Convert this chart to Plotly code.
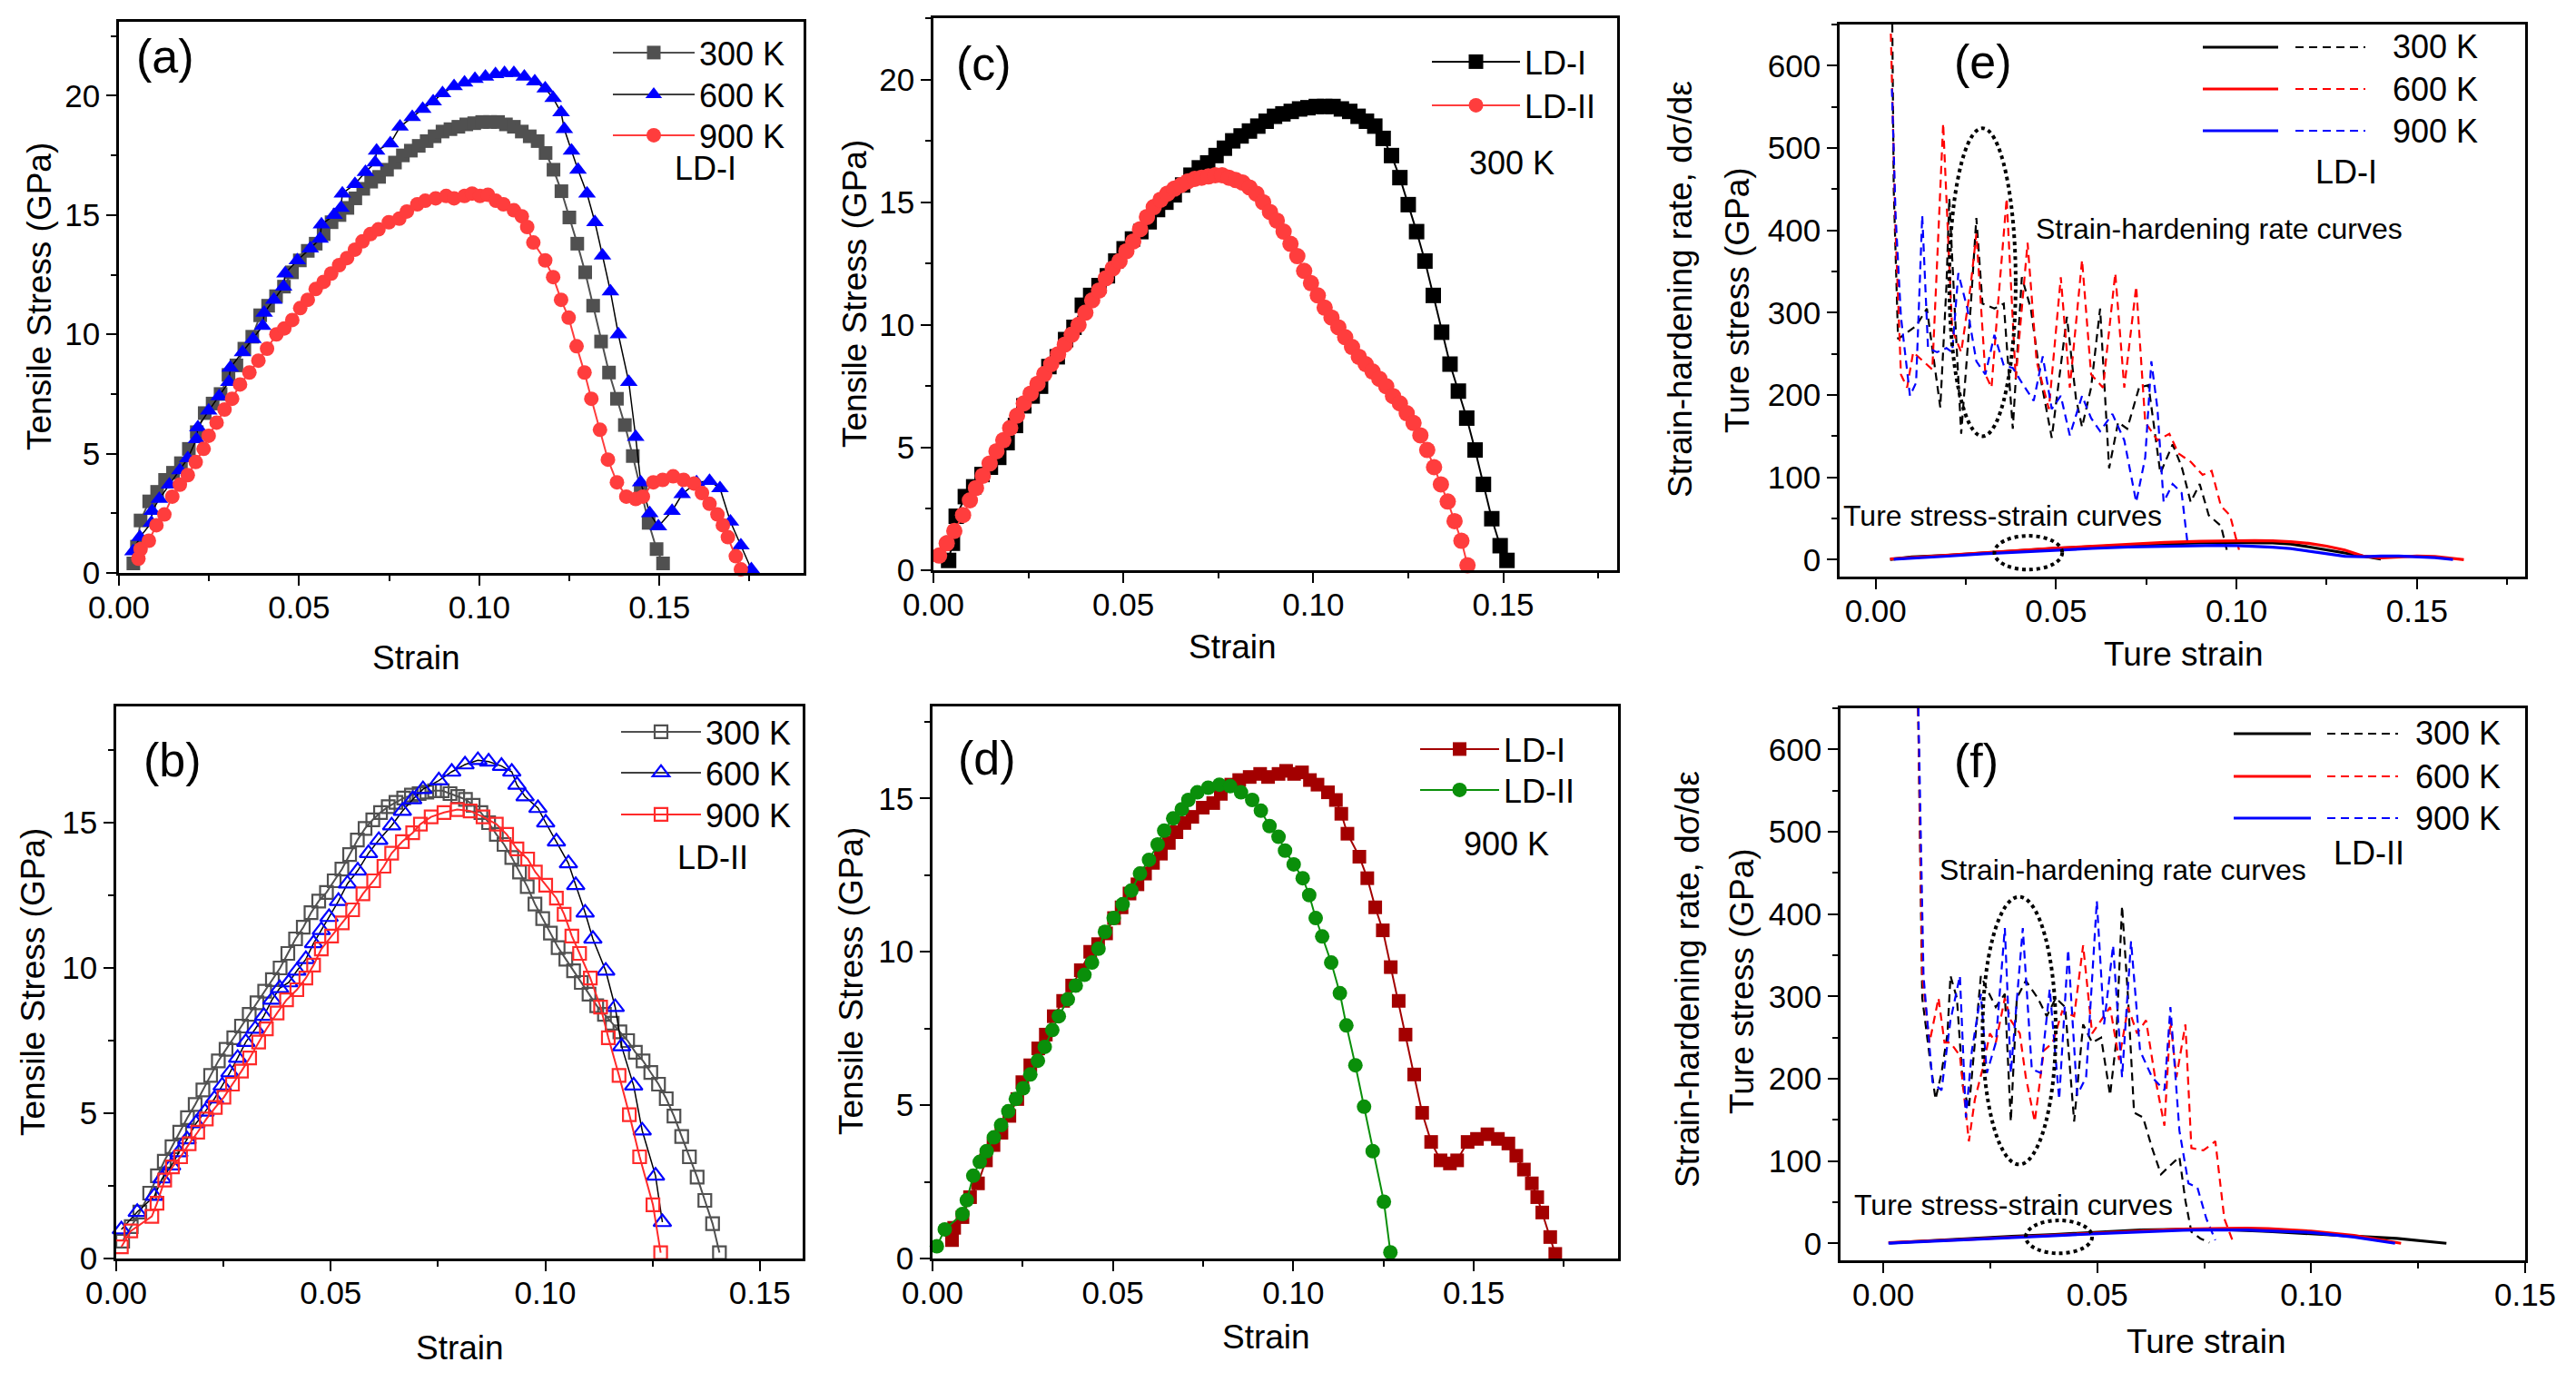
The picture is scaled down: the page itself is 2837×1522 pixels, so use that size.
import plotly.graph_objects as go

W, H = 2837, 1522
FONT = "Liberation Sans, Arial, sans-serif"

# ------------------------------------------------------------------ data
# LD-I engineering stress-strain (GPa)
strain_LDI_300 = [0.0040, 0.0050, 0.0060, 0.0084, 0.0106, 0.0128, 0.0150, 0.0172, 0.0194, 0.0216,
                  0.0238, 0.0260, 0.0282, 0.0304, 0.0326, 0.0348, 0.0370, 0.0392, 0.0414, 0.0436,
                  0.0458, 0.0480, 0.0502, 0.0524, 0.0546, 0.0568, 0.0590, 0.0612, 0.0634, 0.0656,
                  0.0678, 0.0700, 0.0722, 0.0744, 0.0766, 0.0788, 0.0810, 0.0832, 0.0854, 0.0876,
                  0.0898, 0.0920, 0.0942, 0.0964, 0.0986, 0.1008, 0.1030, 0.1052, 0.1074, 0.1096,
                  0.1118, 0.1140, 0.1162, 0.1184, 0.1206, 0.1228, 0.1250, 0.1272, 0.1294, 0.1316,
                  0.1338, 0.1360, 0.1382, 0.1404, 0.1426, 0.1448, 0.1470, 0.1492, 0.1510]
stress_LDI_300 = [0.4, 1.1, 2.2, 3.0, 3.4, 3.9, 4.2, 4.6, 5.2, 5.9,
                  6.7, 7.1, 7.5, 8.3, 8.7, 9.4, 9.9, 10.8, 11.2, 11.6,
                  12.0, 12.6, 13.1, 13.5, 13.8, 14.2, 14.7, 15.0, 15.3, 15.7,
                  16.1, 16.4, 16.6, 16.9, 17.2, 17.5, 17.7, 17.9, 18.1, 18.3,
                  18.5, 18.6, 18.7, 18.8, 18.85, 18.9, 18.9, 18.9, 18.8, 18.7,
                  18.5, 18.3, 18.1, 17.6, 16.9, 16.0, 14.9, 13.8, 12.6, 11.2,
                  9.7, 8.4, 7.3, 6.2, 4.9, 3.5, 2.1, 1.0, 0.4]

strain_LDI_600 = [0.0039, 0.0058, 0.0090, 0.0092, 0.0112, 0.0140, 0.0169, 0.0191, 0.0215, 0.0219,
                  0.0249, 0.0278, 0.0305, 0.0309, 0.0343, 0.0372, 0.0399, 0.0403, 0.0430, 0.0457,
                  0.0461, 0.0495, 0.0531, 0.0558, 0.0562, 0.0597, 0.0616, 0.0620, 0.0655, 0.0684,
                  0.0711, 0.0715, 0.0753, 0.0780, 0.0814, 0.0843, 0.0872, 0.0898, 0.0930, 0.0959,
                  0.0988, 0.1017, 0.1045, 0.1070, 0.1096, 0.1125, 0.1154, 0.1183, 0.1205, 0.1227,
                  0.1236, 0.1256, 0.1274, 0.1299, 0.1321, 0.1342, 0.1364, 0.1386, 0.1415, 0.1434,
                  0.1448, 0.1473, 0.1497, 0.1535, 0.1563, 0.1603, 0.1639, 0.1668, 0.1697, 0.1726,
                  0.1755]
stress_LDI_600 = [0.9, 1.5, 2.1, 2.6, 3.1, 3.7, 4.3, 4.8, 5.6, 6.1,
                  6.8, 7.4, 8.0, 8.6, 9.25, 9.8, 10.35, 10.9, 11.45, 12.0,
                  12.55, 13.1, 13.6, 14.0, 14.6, 15.0, 15.3, 15.9, 16.3, 16.8,
                  17.2, 17.7, 18.0, 18.7, 19.1, 19.45, 19.76, 20.1, 20.4, 20.55,
                  20.7, 20.8, 20.9, 20.95, 20.95, 20.8, 20.6, 20.3, 19.9, 19.3,
                  18.6, 17.7, 16.9, 15.9, 14.7, 13.3, 11.8, 10.0, 8.0, 5.7,
                  3.8, 2.5, 1.95, 2.6, 3.3, 3.8, 3.85, 3.55, 2.15, 1.15,
                  0.15]

strain_LDI_900 = [0.0054, 0.0060, 0.0083, 0.0104, 0.0126, 0.0148, 0.0169, 0.0191, 0.0213, 0.0235,
                  0.0249, 0.0271, 0.0293, 0.0314, 0.0336, 0.0362, 0.0387, 0.0411, 0.0437, 0.0459,
                  0.0481, 0.0503, 0.0524, 0.0546, 0.0568, 0.0589, 0.0611, 0.0633, 0.0655, 0.0676,
                  0.0698, 0.0720, 0.0749, 0.0778, 0.0799, 0.0828, 0.0850, 0.0879, 0.0908, 0.0930,
                  0.0959, 0.0980, 0.1002, 0.1024, 0.1046, 0.1067, 0.1096, 0.1118, 0.1133, 0.1150,
                  0.1183, 0.1205, 0.1227, 0.1248, 0.1270, 0.1292, 0.1311, 0.1335, 0.1357, 0.1382,
                  0.1408, 0.1434, 0.1454, 0.1483, 0.1509, 0.1538, 0.1567, 0.1596, 0.1618, 0.1639,
                  0.1661, 0.1676, 0.1690, 0.1712, 0.1726]
stress_LDI_900 = [0.6, 1.0, 1.35, 2.0, 2.45, 3.2, 3.7, 4.1, 4.65, 5.2,
                  5.75, 6.3, 6.85, 7.3, 7.9, 8.4, 8.9, 9.4, 10.0, 10.25,
                  10.6, 11.1, 11.45, 11.9, 12.2, 12.55, 12.9, 13.2, 13.55, 13.9,
                  14.2, 14.4, 14.7, 14.85, 15.15, 15.45, 15.6, 15.7, 15.8, 15.7,
                  15.8, 15.9, 15.8, 15.85, 15.6, 15.45, 15.2, 14.95, 14.5, 13.85,
                  13.1, 12.4, 11.45, 10.7, 9.5, 8.4, 7.3, 6.0, 4.75, 3.8,
                  3.2, 3.1, 3.2, 3.8, 3.9, 4.05, 3.9, 3.75, 3.35, 2.9,
                  2.45, 2.0, 1.5, 0.7, 0.15]

# LD-II engineering stress-strain (GPa)
strain_LDII_300 = [0.0015, 0.0035, 0.0055, 0.0078, 0.0096, 0.0112, 0.0130, 0.0148, 0.0166, 0.0184,
                   0.0202, 0.0220, 0.0238, 0.0256, 0.0274, 0.0292, 0.0310, 0.0328, 0.0346, 0.0364,
                   0.0382, 0.0400, 0.0418, 0.0436, 0.0454, 0.0472, 0.0490, 0.0508, 0.0526, 0.0544,
                   0.0562, 0.0580, 0.0598, 0.0616, 0.0634, 0.0652, 0.0670, 0.0688, 0.0706, 0.0724,
                   0.0742, 0.0760, 0.0778, 0.0796, 0.0814, 0.0832, 0.0850, 0.0868, 0.0886, 0.0904,
                   0.0922, 0.0940, 0.0958, 0.0976, 0.0994, 0.1012, 0.1030, 0.1048, 0.1066, 0.1084,
                   0.1102, 0.1120, 0.1138, 0.1156, 0.1174, 0.1192, 0.1210, 0.1228, 0.1246, 0.1264,
                   0.1282, 0.1300, 0.1318, 0.1336, 0.1354, 0.1372, 0.1390, 0.1406]
stress_LDII_300 = [0.6, 1.1, 1.6, 2.25, 2.85, 3.35, 3.85, 4.35, 4.85, 5.3,
                   5.8, 6.3, 6.8, 7.2, 7.6, 8.0, 8.4, 8.8, 9.2, 9.6,
                   10.0, 10.5, 11.0, 11.4, 11.9, 12.3, 12.6, 13.0, 13.4, 13.9,
                   14.4, 14.8, 15.1, 15.35, 15.55, 15.7, 15.85, 15.95, 16.0, 16.05,
                   16.1, 16.1, 16.0, 15.9, 15.8, 15.6, 15.35, 15.0, 14.6, 14.25,
                   13.8, 13.3, 12.8, 12.2, 11.7, 11.2, 10.7, 10.3, 9.9, 9.5,
                   9.1, 8.7, 8.4, 8.1, 7.8, 7.5, 7.1, 6.8, 6.4, 6.0,
                   5.5, 4.9, 4.2, 3.5, 2.8, 2.0, 1.2, 0.2]

strain_LDII_600 = [0.0012, 0.0049, 0.0089, 0.0107, 0.0129, 0.0146, 0.0165, 0.0186, 0.0207, 0.0229,
                   0.0247, 0.0265, 0.0283, 0.0302, 0.0324, 0.0344, 0.0363, 0.0381, 0.0402, 0.0421,
                   0.0442, 0.0460, 0.0478, 0.0496, 0.0518, 0.0539, 0.0563, 0.0588, 0.0612, 0.0642,
                   0.0667, 0.0691, 0.0715, 0.0752, 0.0782, 0.0813, 0.0843, 0.0868, 0.0898, 0.0922,
                   0.0934, 0.0953, 0.0983, 0.1001, 0.1026, 0.1054, 0.1071, 0.1093, 0.1111, 0.1141,
                   0.1163, 0.1178, 0.1206, 0.1226, 0.1257, 0.1273]
stress_LDII_600 = [1.0, 1.6, 2.15, 2.75, 3.2, 3.65, 4.1, 4.65, 5.05, 5.5,
                   5.95, 6.4, 6.9, 7.45, 7.9, 8.35, 8.9, 9.3, 9.5, 9.9,
                   10.3, 10.85, 11.3, 11.75, 12.3, 12.9, 13.35, 13.95, 14.4, 14.9,
                   15.4, 15.8, 16.15, 16.45, 16.75, 17.0, 17.15, 17.1, 16.95, 16.75,
                   16.3, 15.9, 15.5, 15.0, 14.35, 13.6, 12.85, 11.9, 11.0, 9.9,
                   8.65, 7.3, 5.95, 4.4, 2.85, 1.25]

strain_LDII_900 = [0.0012, 0.0034, 0.0083, 0.0095, 0.0113, 0.0131, 0.0150, 0.0170, 0.0190, 0.0210,
                   0.0231, 0.0251, 0.0271, 0.0292, 0.0311, 0.0332, 0.0350, 0.0375, 0.0397, 0.0421,
                   0.0442, 0.0460, 0.0478, 0.0502, 0.0527, 0.0551, 0.0575, 0.0600, 0.0624, 0.0642,
                   0.0667, 0.0691, 0.0709, 0.0734, 0.0764, 0.0795, 0.0825, 0.0855, 0.0886, 0.0910,
                   0.0934, 0.0959, 0.0977, 0.1001, 0.1026, 0.1044, 0.1062, 0.1080, 0.1105, 0.1129,
                   0.1147, 0.1172, 0.1196, 0.1220, 0.1251, 0.1269]
stress_LDII_900 = [0.4, 0.95, 1.45, 1.9, 2.7, 3.15, 3.5, 3.95, 4.35, 4.8,
                   5.2, 5.55, 6.0, 6.45, 6.9, 7.45, 7.9, 8.45, 8.9, 9.25,
                   9.65, 10.1, 10.65, 11.1, 11.55, 12.0, 12.55, 13.0, 13.5, 13.95,
                   14.35, 14.65, 14.95, 15.2, 15.35, 15.45, 15.4, 15.2, 14.95, 14.6,
                   14.1, 13.75, 13.3, 12.85, 12.4, 11.85, 11.1, 10.5, 9.65, 8.65,
                   7.6, 6.3, 4.95, 3.5, 1.85, 0.2]

# (e) LD-I true stress-strain (GPa)
tstrain_LDI_300 = [0.004, 0.01, 0.02, 0.03, 0.04, 0.05, 0.06, 0.07, 0.08, 0.09, 0.10, 0.11, 0.115,
                   0.12, 0.125, 0.13, 0.135, 0.14]
tstress_LDI_300 = [0.4, 3.4, 5.3, 8.4, 11.2, 13.8, 15.8, 17.9, 19.4, 20.4, 20.8, 20.3, 19.0,
                   15.6, 11.8, 8.0, 4.2, 0.7]
tstrain_LDI_600 = [0.004, 0.01, 0.02, 0.03, 0.04, 0.05, 0.06, 0.07, 0.08, 0.09, 0.10, 0.105, 0.11,
                   0.115, 0.12, 0.125, 0.13, 0.135, 0.14, 0.145, 0.15, 0.155, 0.16, 0.163]
tstress_LDI_600 = [0.9, 2.7, 5.1, 8.4, 11.1, 14.0, 16.3, 18.9, 21.0, 22.4, 23.1, 23.2, 22.9,
                   21.9, 19.8, 16.4, 11.7, 4.5, 2.3, 3.5, 4.5, 4.0, 1.2, 0.1]
tstrain_LDI_900 = [0.005, 0.01, 0.02, 0.03, 0.04, 0.05, 0.06, 0.07, 0.08, 0.09, 0.095, 0.10, 0.105,
                   0.11, 0.115, 0.12, 0.125, 0.13, 0.135, 0.14, 0.145, 0.15, 0.155, 0.16]
tstress_LDI_900 = [0.6, 1.7, 4.3, 7.2, 9.6, 11.9, 13.7, 15.5, 16.6, 17.2, 17.4, 17.2, 16.5,
                   15.1, 13.6, 10.5, 7.0, 4.1, 3.6, 4.5, 4.5, 3.9, 2.5, 0.2]

# (e) LD-I strain-hardening rate (GPa)
hstrain_LDI_300 = [0.0045, 0.0050, 0.0062, 0.0112, 0.0142, 0.0179, 0.0196, 0.0204, 0.0220, 0.0237,
                   0.0263, 0.0279, 0.0296, 0.0329, 0.0355, 0.0380, 0.0405, 0.0430, 0.0455, 0.0488,
                   0.0530, 0.0555, 0.0572, 0.0597, 0.0622, 0.0647, 0.0672, 0.0697, 0.0730, 0.0756,
                   0.0789, 0.0823, 0.0848, 0.0873, 0.0898, 0.0923, 0.0957, 0.0973]
hrate_LDI_300 = [700, 450, 268, 284, 305, 185, 332, 439, 295, 153,
                 305, 415, 311, 305, 311, 159, 343, 305, 225, 148,
                 295, 196, 161, 209, 305, 111, 167, 159, 209, 212,
                 105, 140, 113, 70, 92, 54, 41, 12]
hstrain_LDI_600 = [0.0042, 0.0055, 0.0070, 0.0087, 0.0104, 0.0157, 0.0170, 0.0187, 0.0212, 0.0237,
                   0.0263, 0.0279, 0.0304, 0.0321, 0.0338, 0.0363, 0.0388, 0.0421, 0.0446, 0.0480,
                   0.0513, 0.0538, 0.0572, 0.0597, 0.0630, 0.0664, 0.0689, 0.0722, 0.0747, 0.0781,
                   0.0814, 0.0839, 0.0873, 0.0906, 0.0931, 0.0957, 0.0982, 0.1007]
hrate_LDI_600 = [639, 400, 225, 209, 252, 231, 359, 530, 279, 252,
                 332, 396, 225, 209, 305, 439, 220, 385, 241, 183,
                 343, 209, 364, 225, 209, 348, 209, 332, 167, 145,
                 153, 129, 119, 103, 108, 65, 54, 12]
hstrain_LDI_900 = [0.0045, 0.0055, 0.0070, 0.0095, 0.0112, 0.0129, 0.0145, 0.0170, 0.0196, 0.0212,
                   0.0229, 0.0254, 0.0279, 0.0304, 0.0329, 0.0355, 0.0380, 0.0405, 0.0438, 0.0463,
                   0.0488, 0.0513, 0.0538, 0.0572, 0.0597, 0.0622, 0.0656, 0.0689, 0.0722, 0.0747,
                   0.0764, 0.0781, 0.0798, 0.0823, 0.0848, 0.0865]
hrate_LDI_900 = [572, 420, 295, 199, 215, 418, 257, 252, 257, 252,
                 348, 305, 241, 225, 273, 236, 233, 215, 193, 247,
                 183, 199, 151, 199, 172, 156, 177, 145, 70, 124,
                 241, 183, 70, 92, 81, 17]

# (f) LD-II true stress-strain (GPa)
tstrain_LDII_300 = [0.0015, 0.01, 0.02, 0.03, 0.04, 0.05, 0.06, 0.07, 0.075, 0.08, 0.09, 0.10,
                    0.11, 0.12, 0.13, 0.1316]
tstress_LDII_300 = [0.6, 3.1, 5.8, 8.5, 10.9, 13.8, 16.3, 17.2, 17.25, 16.9, 14.6, 11.5,
                    8.8, 6.2, 1.4, 0.2]
tstrain_LDII_600 = [0.0012, 0.01, 0.02, 0.03, 0.04, 0.05, 0.06, 0.07, 0.08, 0.085, 0.09, 0.10,
                    0.11, 0.115, 0.12, 0.121]
tstress_LDII_600 = [1.0, 2.6, 5.1, 7.6, 9.9, 12.7, 15.3, 17.4, 18.4, 18.6, 17.9, 15.0,
                    9.6, 5.2, 1.5, 0.2]
tstrain_LDII_900 = [0.0012, 0.01, 0.02, 0.03, 0.04, 0.05, 0.06, 0.07, 0.075, 0.08, 0.085, 0.09,
                    0.10, 0.11, 0.115, 0.1196]
tstress_LDII_900 = [0.4, 2.3, 4.7, 7.0, 9.4, 11.9, 14.2, 16.1, 16.6, 16.7, 16.3, 15.3,
                    13.3, 7.7, 3.7, 0.2]

# (f) LD-II strain-hardening rate (GPa)
hstrain_LDII_300 = [0.0080, 0.0091, 0.0108, 0.0122, 0.0136, 0.0150, 0.0157, 0.0172, 0.0186, 0.0200,
                    0.0214, 0.0228, 0.0242, 0.0263, 0.0284, 0.0298, 0.0312, 0.0333, 0.0361, 0.0382,
                    0.0403, 0.0425, 0.0446, 0.0467, 0.0488, 0.0509, 0.0530, 0.0544, 0.0558, 0.0572,
                    0.0586, 0.0607, 0.0628, 0.0649, 0.0671, 0.0692, 0.0706, 0.0720, 0.0741, 0.0762]
hrate_LDII_300 = [700, 298, 228, 175, 207, 255, 325, 298, 191, 164,
                  244, 325, 309, 287, 303, 148, 298, 319, 298, 276,
                  298, 287, 148, 266, 244, 250, 180, 244, 410, 298,
                  159, 153, 116, 84, 95, 105, 52, 14, 6, 1]
hstrain_LDII_600 = [0.0080, 0.0091, 0.0108, 0.0129, 0.0143, 0.0157, 0.0179, 0.0200, 0.0214, 0.0232,
                    0.0249, 0.0263, 0.0284, 0.0298, 0.0319, 0.0333, 0.0354, 0.0375, 0.0396, 0.0418,
                    0.0446, 0.0467, 0.0488, 0.0509, 0.0530, 0.0551, 0.0572, 0.0593, 0.0614, 0.0635,
                    0.0657, 0.0671, 0.0685, 0.0706, 0.0720, 0.0748, 0.0776, 0.0797, 0.0818]
hrate_LDII_600 = [700, 325, 244, 298, 244, 244, 228, 124, 175, 212,
                  255, 244, 298, 271, 255, 202, 148, 234, 244, 282,
                  276, 362, 255, 271, 287, 223, 287, 255, 271, 202,
                  143, 271, 202, 266, 116, 113, 124, 30, 1]
hstrain_LDII_900 = [0.0080, 0.0094, 0.0115, 0.0136, 0.0157, 0.0179, 0.0193, 0.0207, 0.0228, 0.0242,
                    0.0263, 0.0284, 0.0298, 0.0326, 0.0347, 0.0368, 0.0389, 0.0411, 0.0432, 0.0453,
                    0.0474, 0.0499, 0.0516, 0.0537, 0.0558, 0.0579, 0.0600, 0.0628, 0.0657, 0.0671,
                    0.0692, 0.0713, 0.0734, 0.0755, 0.0776]
hrate_LDII_900 = [700, 325, 196, 186, 271, 325, 153, 234, 303, 207,
                  244, 383, 207, 383, 212, 207, 309, 175, 357, 180,
                  202, 416, 266, 362, 202, 367, 234, 202, 186, 287,
                  137, 73, 68, 30, 4]

temps = ["300 K", "600 K", "900 K"]
phases = ["LD-I", "LD-II"]

# ------------------------------------------------------------------ helpers
def PX(p):
    return p / W


def PY(p):
    return 1 - p / H


fig = go.Figure()

GRAY = "#505050"
BLUE = "#0000ff"
RED_L = "#ff3d3d"
DRED = "#a30000"
GREEN = "#0a8f0a"

legend_layout = {}
LEGFONT = dict(family=FONT, size=36, color="black")
leg_counter = [0]


def new_legend(x_line, text_x, row_y):
    leg_counter[0] += 1
    key = "legend" if leg_counter[0] == 1 else "legend%d" % leg_counter[0]
    x0 = x_line - 5
    legend_layout[key] = dict(x=PX(x0), y=PY(row_y - 30), xanchor="left", yanchor="top",
                              bgcolor="rgba(0,0,0,0)", borderwidth=0, font=LEGFONT,
                              itemwidth=max(30, text_x - x0 - 10), tracegroupgap=0)
    return key


def sc(x, y, ax, name, sym, size, mcol, lcol, lw, legpos, open_=False):
    marker = dict(symbol=sym, size=size, color=mcol)
    marker["line"] = dict(width=2.2, color=mcol) if open_ else dict(width=0)
    key = new_legend(*legpos)
    fig.add_trace(go.Scatter(x=x, y=y, xaxis="x" + ax, yaxis="y" + ax, mode="lines+markers",
                             name=name, marker=marker, line=dict(color=lcol, width=lw),
                             legend=key, showlegend=True, cliponaxis=False))


# (a) LD-I, axes x/y
sc(strain_LDI_300, stress_LDI_300, "", temps[0], "square", 15, GRAY, GRAY, 2, (675, 770, 58))
sc(strain_LDI_600, stress_LDI_600, "", temps[1], "triangle-up", 17, BLUE, "black", 1.5, (675, 770, 104))
sc(strain_LDI_900, stress_LDI_900, "", temps[2], "circle", 16, RED_L, RED_L, 2, (675, 770, 149))

# (c) 300 K, axes x2/y2
sc(strain_LDI_300, stress_LDI_300, "2", phases[0], "square", 17, "black", "black", 2, (1577, 1679, 68))
sc(strain_LDII_300, stress_LDII_300, "2", phases[1], "circle", 18, RED_L, RED_L, 2, (1577, 1679, 116))

# (b) LD-II, axes x4/y4
sc(strain_LDII_300, stress_LDII_300, "4", temps[0], "square-open", 14, GRAY, GRAY, 2,
   (684, 777, 806), open_=True)
sc(strain_LDII_600, stress_LDII_600, "4", temps[1], "triangle-up-open", 17, BLUE, "black", 1.5,
   (684, 777, 851), open_=True)
sc(strain_LDII_900, stress_LDII_900, "4", temps[2], "square-open", 14, "#ff2a2a", "#ff2a2a", 2,
   (684, 777, 897), open_=True)

# (d) 900 K, axes x5/y5
sc(strain_LDI_900, stress_LDI_900, "5", phases[0], "square", 15, DRED, DRED, 2, (1564, 1656, 825))
sc(strain_LDII_900, stress_LDII_900, "5", phases[1], "circle", 16, GREEN, GREEN, 2, (1564, 1656, 870))

# (e) and (f)
ecols = ["black", "#ff0000", "#0000ff"]
DASH = "9px,6px"
for ax, ts, tv, hs, hv in [
    ("3", [tstrain_LDI_300, tstrain_LDI_600, tstrain_LDI_900],
     [tstress_LDI_300, tstress_LDI_600, tstress_LDI_900],
     [hstrain_LDI_300, hstrain_LDI_600, hstrain_LDI_900],
     [hrate_LDI_300, hrate_LDI_600, hrate_LDI_900]),
    ("6", [tstrain_LDII_300, tstrain_LDII_600, tstrain_LDII_900],
     [tstress_LDII_300, tstress_LDII_600, tstress_LDII_900],
     [hstrain_LDII_300, hstrain_LDII_600, hstrain_LDII_900],
     [hrate_LDII_300, hrate_LDII_600, hrate_LDII_900])]:
    for i in range(3):
        fig.add_trace(go.Scatter(x=hs[i], y=hv[i], xaxis="x" + ax, yaxis="y" + ax, mode="lines",
                                 line=dict(color=ecols[i], width=2.2, dash=DASH),
                                 name=temps[i] + " dσ/dε", showlegend=False))
    for i in range(3):
        fig.add_trace(go.Scatter(x=ts[i], y=tv[i], xaxis="x" + ax, yaxis="y" + ax, mode="lines",
                                 line=dict(color=ecols[i], width=3.2),
                                 name=temps[i] + " true stress", showlegend=False))

# ------------------------------------------------------------------ axes
panels = {
    # key: (left, right, top, bottom) in px, xrange, yrange, ydtick, yminor
    "": ((131, 885, 24, 631), [0, 0.19], [0, 23.1], 5, 2.5),
    "2": ((1028, 1781, 20, 628), [0, 0.18], [0, 22.5], 5, 2.5),
    "3": ((2026, 2781, 27, 635), [-0.01, 0.18], [-20.5, 650], 100, 50),
    "4": ((128, 884, 778, 1386), [0, 0.16], [0, 19], 5, 2.5),
    "5": ((1027, 1782, 778, 1386), [0, 0.19], [0, 18], 5, 2.5),
    "6": ((2027, 2781, 780, 1388), [-0.01, 0.15], [-20.5, 650], 100, 50),
}

tickfont = dict(family=FONT, size=35, color="black")
common = dict(showline=True, linecolor="black", linewidth=2.6, mirror=True, ticks="outside",
              ticklen=11, tickwidth=2.2, tickcolor="black", showgrid=False, zeroline=False,
              tickfont=tickfont, automargin=False)
lay = {}
for k, (box, xr, yr, ydt, ymn) in panels.items():
    l, r, t, b = box
    lay["xaxis" + k] = dict(common, domain=[PX(l), PX(r)], range=xr, dtick=0.05, tick0=0,
                            tickformat=".2f", anchor="y" + k, ticklabelstandoff=-6,
                            minor=dict(dtick=0.025, tick0=0, ticks="outside", ticklen=6,
                                       tickwidth=2.2, tickcolor="black", showgrid=False))
    lay["yaxis" + k] = dict(common, domain=[PY(b), PY(t)], range=yr, dtick=ydt, tick0=0,
                            anchor="x" + k,
                            minor=dict(dtick=ymn, tick0=0, ticks="outside", ticklen=6,
                                       tickwidth=2.2, tickcolor="black", showgrid=False))
lay.update(legend_layout)

# ------------------------------------------------------------------ annotations
ann = []


def text(s, x, y, size=36, angle=0, xanchor="center"):
    ann.append(dict(text=s, x=PX(x), y=PY(y), xref="paper", yref="paper", showarrow=False,
                    xanchor=xanchor, yanchor="middle", textangle=angle,
                    font=dict(family=FONT, size=size, color="black")))


ytitle = "Tensile Stress (GPa)"
text(ytitle, 43, 327, 37, -90)
text(ytitle, 941, 324, 37, -90)
text(ytitle, 36, 1082, 37, -90)
text(ytitle, 937, 1080, 37, -90)
text("Strain-hardening rate, dσ/dε", 1850, 319, 37, -90)
text("Ture stress (GPa)", 1913, 331, 37, -90)
text("Strain-hardening rate, dσ/dε", 1858, 1079, 37, -90)
text("Ture stress (GPa)", 1918, 1081, 37, -90)

text("Strain", 458, 724, 37)
text("Strain", 1357, 712, 37)
text("Strain", 506, 1484, 37)
text("Strain", 1394, 1472, 37)
text("Ture strain", 2404, 720, 37)
text("Ture strain", 2429, 1477, 37)

text("(a)", 182, 62, 52)
text("(c)", 1083, 70, 52)
text("(e)", 2184, 68, 52)
text("(b)", 190, 837, 52)
text("(d)", 1087, 835, 52)
text("(f)", 2176, 838, 52)

text("LD-I", 741, 186, 36, xanchor="left")
text("300 K", 1616, 179, 36, xanchor="left")
text("LD-II", 744, 944, 36, xanchor="left")
text("900 K", 1610, 929, 36, xanchor="left")
text("LD-I", 2548, 189, 36, xanchor="left")
text("LD-II", 2568, 939, 36, xanchor="left")
text("Strain-hardening rate curves", 2240, 252, 32, xanchor="left")
text("Ture stress-strain curves", 2028, 568, 32, xanchor="left")
text("Strain-hardening rate curves", 2134, 958, 32, xanchor="left")
text("Ture stress-strain curves", 2040, 1327, 32, xanchor="left")

# custom legends for (e) and (f): solid + dashed sample per temperature
shapes = []
for (s0, s1, d0, d1, tx, rows) in [(2426, 2509, 2528, 2605, 2633, [52, 98, 144]),
                                   (2460, 2545, 2563, 2641, 2658, [808, 855, 901])]:
    for i, ry in enumerate(rows):
        shapes.append(dict(type="line", xref="paper", yref="paper", x0=PX(s0), x1=PX(s1),
                           y0=PY(ry), y1=PY(ry), line=dict(color=ecols[i], width=3.2)))
        shapes.append(dict(type="line", xref="paper", yref="paper", x0=PX(d0), x1=PX(d1),
                           y0=PY(ry), y1=PY(ry), line=dict(color=ecols[i], width=2.2, dash=DASH)))
        text(temps[i], tx, ry, 36, xanchor="left")

# dotted ellipses
for ax, (x0, x1, y0, y1) in [("3", (0.0204, 0.0388, 150, 524)), ("3", (0.0329, 0.0517, -12, 29)),
                             ("6", (0.0232, 0.0403, 96, 421)), ("6", (0.0333, 0.0488, -12, 28))]:
    shapes.append(dict(type="circle", xref="x" + ax, yref="y" + ax, x0=x0, x1=x1, y0=y0, y1=y1,
                       line=dict(color="black", width=4, dash="dot")))

fig.update_layout(width=W, height=H, margin=dict(l=0, r=0, t=0, b=0, pad=0, autoexpand=False),
                  autosize=False, template="none",
                  paper_bgcolor="white", plot_bgcolor="white", annotations=ann, shapes=shapes,
                  font=dict(family=FONT, color="black"), **lay)

fig.write_html("out.html", config={"responsive": False},
               post_script="document.body.style.margin='0';")
